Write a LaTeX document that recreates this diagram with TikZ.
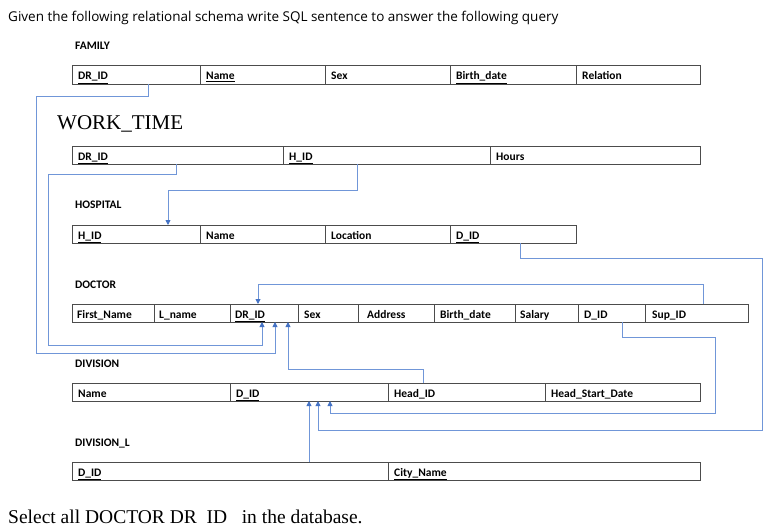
\documentclass[tikz,border=0pt]{standalone}
\usepackage{fontspec}
\setmainfont{Liberation Serif}
\newfontfamily\carf{Carlito}
\newfontfamily\opnf{Open Sans}
\usetikzlibrary{arrows.meta}
\definecolor{lnk}{HTML}{7096D8}
\definecolor{arr}{HTML}{4472C4}
\tikzset{
 tbl/.style={draw=black!70,line width=1pt},
 fld/.style={anchor=base west,inner sep=0pt,font=\carf\bfseries\fontsize{11.5}{12}\selectfont},
 ttl/.style={anchor=base west,inner sep=0pt,font=\carf\bfseries\fontsize{11.5}{12}\selectfont},
 con/.style={draw=lnk,line width=0.9pt},
 arw/.style={con,-{Triangle[length=5pt,width=5pt,fill=arr,color=arr]}}
}
\newcommand{\tb}[4]{% y-top, x-left, x-right, dividers
 \draw[tbl] (#2,#1) rectangle (#3,#1+18);
 \foreach \d in {#4} {\draw[tbl] (\d,#1) -- (\d,#1+18);}
}
\begin{document}
\begin{tikzpicture}[x=1pt,y=-1pt]
\useasboundingbox (0,0) rectangle (784,527);
\node[anchor=base west,inner sep=0pt,font=\opnf\fontsize{13.5}{15}\selectfont] (t) at (8,22) {Given the following relational schema write SQL sentence to answer the following query};
% FAMILY
\node[ttl] (lf) at (75,49) {FAMILY};
\tb{66}{72}{700}{200,325,450,576}
\node[fld] (f1) at (78,80) {\underline{DR\_ID}};
\node[fld] (f2) at (206,80) {\underline{Name}};
\node[fld] (f3) at (331,80) {Sex};
\node[fld] (f4) at (456,80) {\underline{Birth\_date}};
\node[fld] (f5) at (582,80) {Relation};
% WORK_TIME
\node[anchor=base west,inner sep=0pt,font=\fontsize{21}{23}\selectfont] (lw) at (57,129) {WORK\_TIME};
\tb{146}{72}{700}{283,490}
\node[fld] (w1) at (78,160) {\underline{DR\_ID}};
\node[fld] (w2) at (289,160) {\underline{H\_ID}};
\node[fld] (w3) at (496,160) {Hours};
% HOSPITAL
\node[ttl] (lh) at (75,208) {HOSPITAL};
\tb{225}{72}{576}{200,325,450}
\node[fld] (h1) at (78,239) {\underline{H\_ID}};
\node[fld] (h2) at (206,239) {Name};
\node[fld] (h3) at (331,239) {Location};
\node[fld] (h4) at (456,239) {\underline{D\_ID}};
% DOCTOR
\node[ttl] (ld) at (75,288) {DOCTOR};
\tb{304}{72}{748}{154,230,298,358,434,515,578,645}
\node[fld] (d1) at (77,318) {First\_Name};
\node[fld] (d2) at (159,318) {L\_name};
\node[fld] (d3) at (235,318) {\underline{DR\_ID}};
\node[fld] (d4) at (304,318) {Sex};
\node[fld] (d5) at (367,318) {Address};
\node[fld] (d6) at (440,318) {Birth\_date};
\node[fld] (d7) at (520,318) {Salary};
\node[fld] (d8) at (584,318) {D\_ID};
\node[fld] (d9) at (652,318) {Sup\_ID};
% DIVISION
\node[ttl] (lv) at (75,367) {DIVISION};
\tb{383}{72}{700}{230,388,545}
\node[fld] (v1) at (78,397) {Name};
\node[fld] (v2) at (236,397) {\underline{D\_ID}};
\node[fld] (v3) at (394,397) {Head\_ID};
\node[fld] (v4) at (551,397) {Head\_Start\_Date};
% DIVISION_L
\node[ttl] (ll) at (75,446) {DIVISION\_L};
\tb{462}{72}{700}{388}
\node[fld] (l1) at (78,476) {\underline{D\_ID}};
\node[fld] (l2) at (394,476) {\underline{City\_Name}};
\node[anchor=base west,inner sep=0pt,font=\fontsize{19.5}{21}\selectfont] (q) at (8,523) {Select all DOCTOR DR\ \ ID\ \ \ in the database.};
% anchors
\coordinate (a1) at (148,84); \coordinate (b1) at (275,322);
\coordinate (a2) at (176,164); \coordinate (b2) at (262,322);
\coordinate (a3) at (357,164); \coordinate (b3) at (168,225);
\coordinate (a4) at (520,243); \coordinate (b4) at (318,401);
\coordinate (a5) at (703,304); \coordinate (b5) at (258,304);
\coordinate (a6) at (622,322); \coordinate (b6) at (330,401);
\coordinate (a7) at (423,383); \coordinate (b7) at (288,322);
\coordinate (a8) at (309,462); \coordinate (b8) at (309,401);
% connectors
\draw[arw] (a1) |- (36,96) |- (275,353) -- (b1);
\draw[arw] (a2) |- (48,174) |- (262,345) -- (b2);
\draw[arw] (a3) |- (168,190) -- (b3);
\draw[arw] (a4) |- (762,258) |- (318,430) -- (b4);
\draw[arw] (a5) |- (258,284) -- (b5);
\draw[arw] (a6) |- (715,337) |- (330,413) -- (b6);
\draw[arw] (a7) |- (288,369) -- (b7);
\draw[arw] (a8) -- (b8);
\end{tikzpicture}
\end{document}
